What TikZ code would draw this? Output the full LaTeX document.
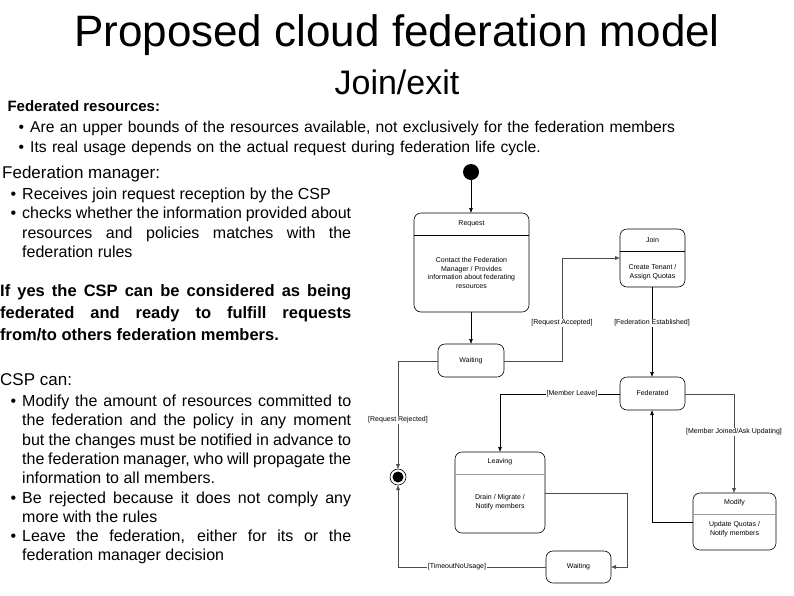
\documentclass[tikz,border=0pt]{standalone}
\usepackage{fontspec}
\setmainfont{Liberation Sans}
\usepackage{tikz}
\usetikzlibrary{positioning,arrows.meta}
\hyphenpenalty=10000
\exhyphenpenalty=10000
\newcommand{\blist}[2][14pt]{\begin{list}{\textbullet}{\setlength\leftmargin{#1}\setlength\labelwidth{8pt}\setlength\labelsep{6pt}\setlength\itemsep{0pt}\setlength\parsep{0pt}\setlength\topsep{0pt}}#2\end{list}}
\tikzset{
  state/.style={draw, rounded corners=7pt, line width=.6pt},
  lbl/.style={font=\fontsize{7}{8}\selectfont, fill=white, inner sep=1pt},
  body/.style={font=\fontsize{7}{8.5}\selectfont, align=center},
  flow/.style={-{Latex[length=5pt,width=4pt]}, line width=.6pt},
  thin flow/.style={-{Latex[length=5pt,width=4pt]}, line width=.3pt, black!70}
}
\begin{document}
\begin{tikzpicture}[x=1pt, y=-1pt]
\useasboundingbox (0,0) rectangle (794,595);
% titulos
\node (title) at (397,35) {\fontsize{44}{48}\selectfont Proposed cloud federation model};
\node (sub) at (397,82) {\fontsize{34}{36}\selectfont Join/exit};
% texto da esquerda
\node[anchor=west, font=\bfseries\fontsize{15}{16}\selectfont] (fedres) at (4,106) {Federated resources:};
\node[anchor=north west, text width=770pt, inner sep=0pt, font=\fontsize{15.7}{20}\selectfont] (fedlist) at (8,112) {\blist[22pt]{\item Are an upper bounds of the resources available, not exclusively for the federation members \item Its real usage depends on the actual request during federation life cycle.}};
\node[anchor=west, inner sep=0pt, font=\fontsize{17}{18}\selectfont] (fedman) at (2,174) {Federation manager:};
\node[anchor=north west, text width=343pt, inner sep=0pt, align=justify, font=\fontsize{16}{19.3}\selectfont] (manlist) at (8,180) {\blist{\item Receives join request reception by the CSP \item checks whether the information provided about resources and policies matches with the federation rules}};
\node[anchor=north west, text width=351pt, inner sep=0pt, align=justify, font=\bfseries\fontsize{16.5}{22}\selectfont] (ifyes) at (0,284) {If yes the CSP can be considered as being\linebreak federated and ready to fulfill requests\linebreak from/to others federation members.};
\node[anchor=west, inner sep=0pt, font=\fontsize{17}{18}\selectfont] (cspcan) at (0,380) {CSP can:};
\node[anchor=north west, text width=343pt, inner sep=0pt, align=justify, font=\fontsize{16}{19.3}\selectfont] (csplist) at (8,387) {\blist{\item Modify the amount of resources committed to the federation and the policy in any moment but the changes must be notified in advance to the federation manager, who will propagate the information to all members. \item Be rejected because it does not comply any more with the rules \item Leave the federation, either for its or the federation manager decision}};
% diagrama de estados
\fill (471,172) circle (8) coordinate (start);
\draw[state] (414,213) rectangle (529,312);
\draw (414,235) -- (529,235);
\node[body] (request) at (471.5,224) {Request};
\node[body] (reqbody) at (471.5,273) {Contact the Federation\\Manager / Provides\\information about federating\\resources};
\draw[state] (438,344) rectangle (504,377);
\node[body] (waiting) at (471,361) {Waiting};
\draw[state] (620,229) rectangle (685,287);
\draw (620,251) -- (685,251);
\node[body] (join) at (652.5,240) {Join};
\node[body] (joinbody) at (652.5,272) {Create Tenant /\\Assign Quotas};
\draw[state] (620,377) rectangle (685,410);
\node[body] (federated) at (652.5,393) {Federated};
\draw[state] (455,452) rectangle (545,533);
\draw[black!40] (455,474) -- (545,474);
\node[body] (leaving) at (500,462) {Leaving};
\node[body] (leavbody) at (500,502) {Drain / Migrate /\\Notify members};
\draw[state] (546,551) rectangle (611,583);
\node[body] (waiting2) at (578.5,567) {Waiting};
\draw[state] (693,493) rectangle (776,550);
\draw[black!40] (693,514) -- (776,514);
\node[body] (modify) at (734.5,503) {Modify};
\node[body] (modbody) at (734.5,529) {Update Quotas /\\Notify members};
\draw[line width=.6pt] (398,477) circle (8);
\fill (398,477) circle (5.5) coordinate (end);
% transicoes
\draw[flow] (start) ++(0,8) -- (471,213);
\draw[flow] (471,312) -- (471,344);
\draw[thin flow] (504,361) -- (562,361) -- (562,258) -- (620,258);
\node[lbl] (acc) at (562,323) {[Request Accepted]};
\draw[flow] (652,287) -- (652,377);
\node[lbl] (est) at (652,323) {[Federation Established]};
\draw[thin flow] (438,361) -- (398,361) -- (398,469);
\node[lbl] (rej) at (398,420) {[Request Rejected]};
\draw[flow] (620,394) -- (500,394) -- (500,452);
\node[lbl] (leave) at (572,394) {[Member Leave]};
\draw[thin flow] (545,493) -- (627,493) -- (627,567) -- (611,567);
\draw[thin flow] (546,567) -- (398,567) -- (398,485);
\node[lbl] (tout) at (457,567) {[TimeoutNoUsage]};
\draw[thin flow] (685,394) -- (734,394) -- (734,493);
\node[lbl] (upd) at (734,432) {[Member Joined/Ask Updating]};
\draw[flow] (693,522) -- (652,522) -- (652,410);
\end{tikzpicture}
\end{document}
